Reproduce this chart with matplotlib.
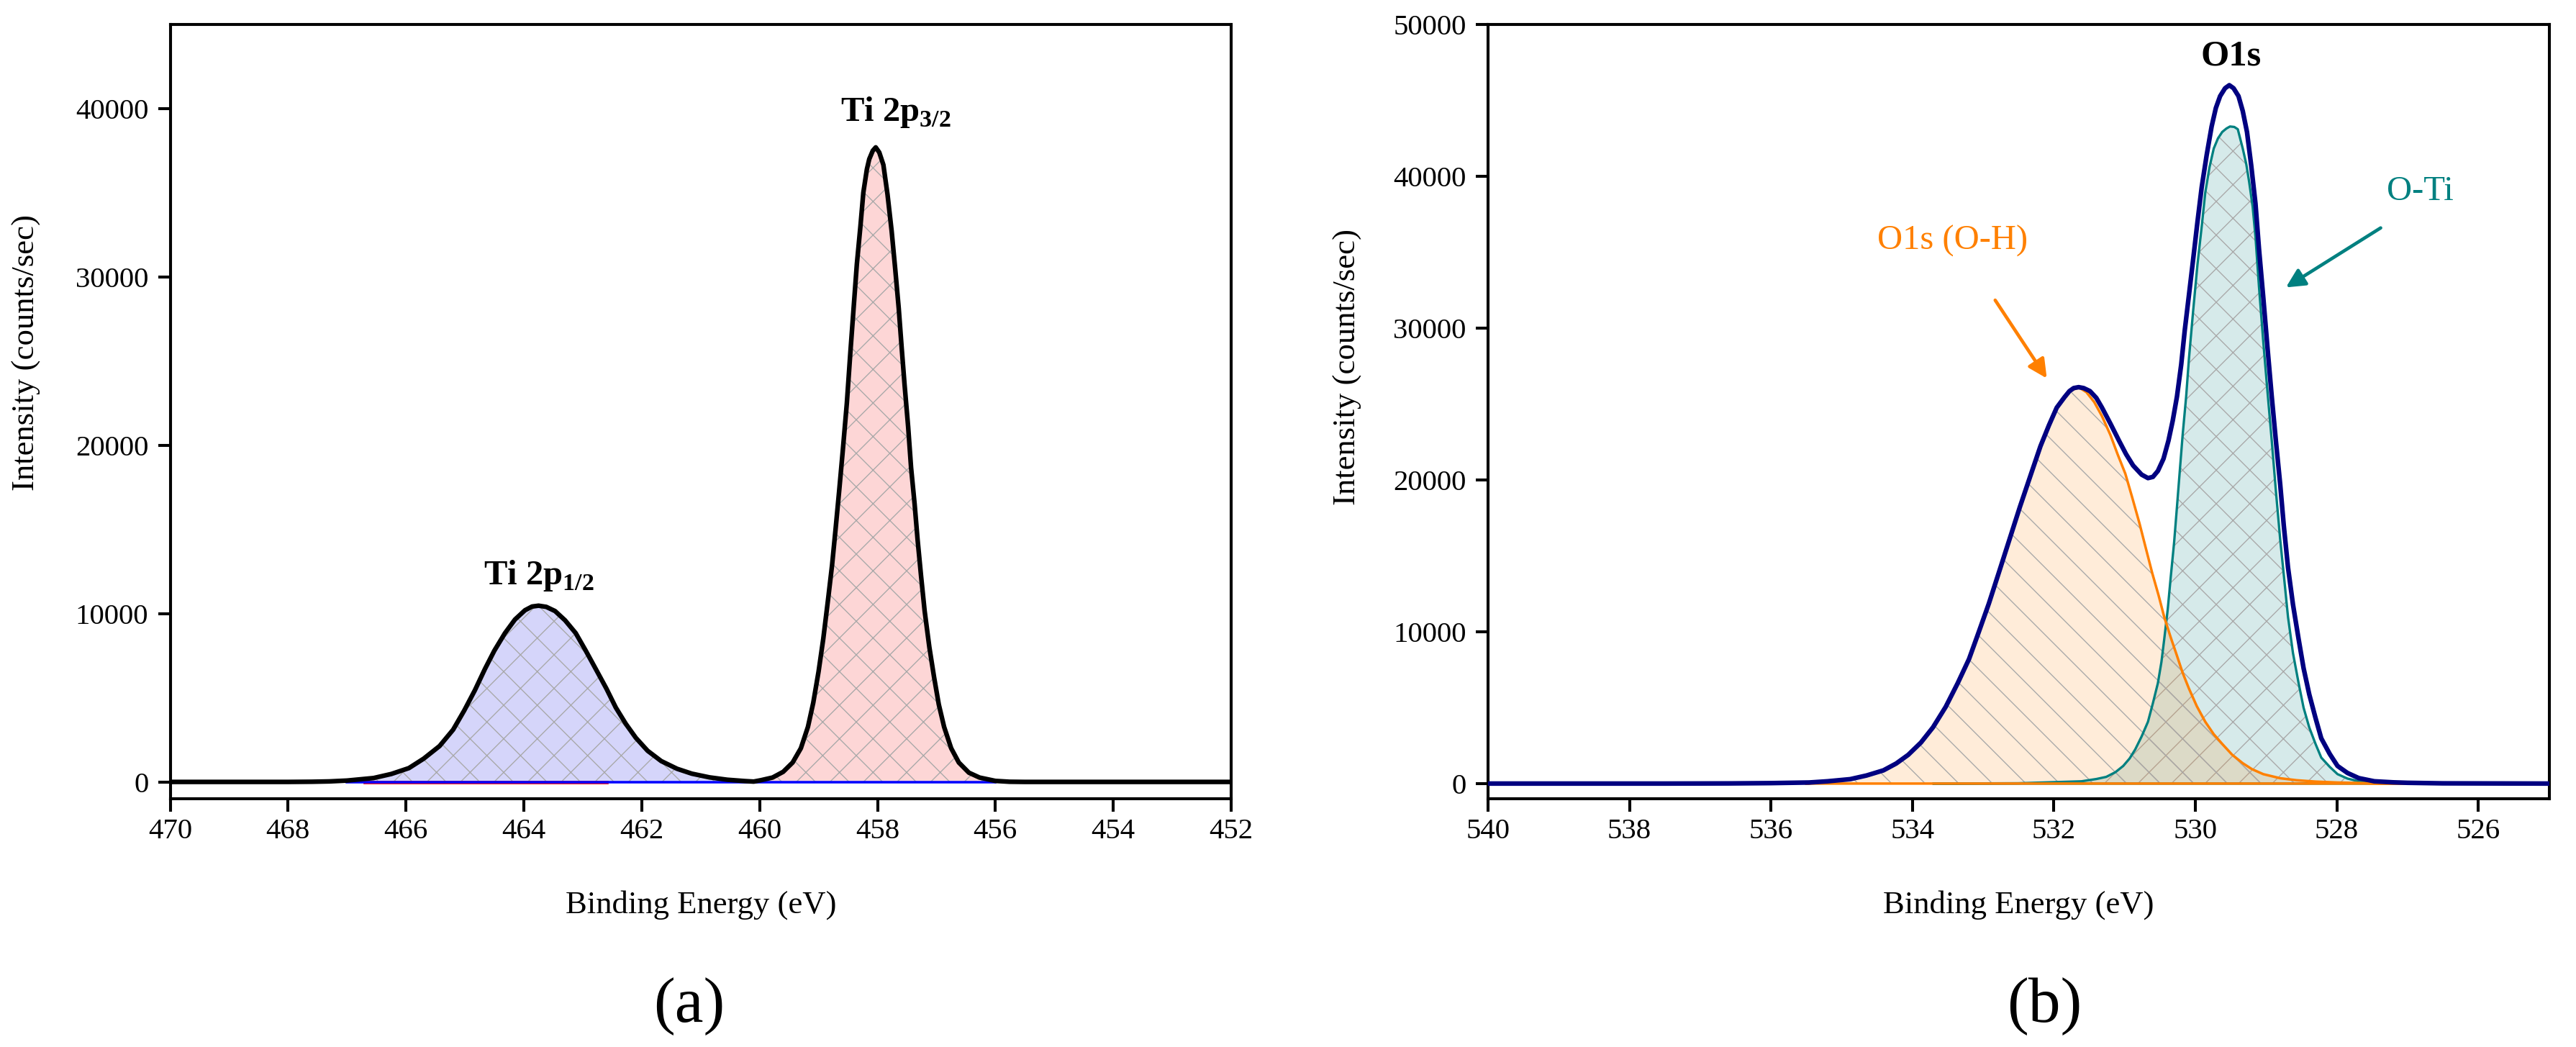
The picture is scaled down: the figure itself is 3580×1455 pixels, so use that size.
## xps_ti2p_o1s.py
# Ti 2p and O 1s XPS spectra, two panels side by side
import numpy as np
import matplotlib
matplotlib.use('Agg')
import matplotlib.pyplot as plt

# ---- Panel (a): Ti 2p ----
ti12_be = [468.0, 467.6, 467.3, 467.0, 466.55, 466.25, 465.95, 465.7, 465.43, 465.2, 465.01, 464.83,
           464.66, 464.5, 464.32, 464.15, 463.98, 463.86, 463.75, 463.62, 463.47, 463.3, 463.12, 462.95,
           462.78, 462.6, 462.44, 462.27, 462.1, 461.9, 461.67, 461.4, 461.15, 460.85, 460.55, 460.25]
ti12_cps = [0, 10, 30, 80, 230, 470, 820, 1380, 2130, 3100, 4250, 5450,
            6710, 7800, 8840, 9650, 10200, 10420, 10470, 10400, 10150, 9600, 8840, 7800,
            6710, 5550, 4420, 3450, 2620, 1850, 1240, 780, 490, 270, 130, 50]

ti32_be = [460.1, 459.98, 459.78, 459.6, 459.44, 459.3, 459.18, 459.09, 459.0, 458.92, 458.84, 458.77,
           458.71, 458.65, 458.59, 458.52, 458.46, 458.4, 458.35, 458.29, 458.24, 458.18, 458.14, 458.08,
           458.03, 457.97, 457.9, 457.83, 457.76, 457.7, 457.64, 457.59, 457.54, 457.48, 457.43, 457.37,
           457.32, 457.26, 457.2, 457.12, 457.04, 456.96, 456.87, 456.75, 456.62, 456.45, 456.27, 456.0,
           455.76, 455.5]
ti32_cps = [20, 100, 260, 600, 1150, 2000, 3270, 4700, 6550, 8500, 10800, 12900,
            15060, 17300, 19640, 22500, 25530, 28400, 30770, 33000, 35020, 36400, 37000, 37500,
            37700, 37400, 36660, 34900, 32730, 30500, 28150, 25800, 23570, 21100, 18660, 16500,
            14400, 12200, 10150, 8000, 6220, 4600, 3270, 2000, 1150, 550, 260, 60,
            10, 0]

ti12_base = [466.7, 462.6]
ti32_base = [467.0, 456.0]

# ---- Panel (b): O 1s ----
o1s_be = [540.0, 537.5, 536.6, 536.0, 535.46, 535.2, 534.88, 534.65, 534.41, 534.23, 534.06, 533.88,
          533.71, 533.53, 533.36, 533.2, 533.07, 532.92, 532.78, 532.63, 532.48, 532.33, 532.19, 532.07,
          531.96, 531.85, 531.78, 531.72, 531.65, 531.58, 531.49, 531.4, 531.32, 531.2, 531.08, 530.98,
          530.88, 530.76, 530.67, 530.6, 530.53, 530.45, 530.38, 530.32, 530.26, 530.2, 530.15, 530.09,
          530.03, 529.97, 529.91, 529.84, 529.77, 529.71, 529.65, 529.58, 529.52, 529.46, 529.39, 529.33,
          529.27, 529.21, 529.15, 529.1, 529.04, 528.98, 528.92, 528.86, 528.8, 528.75, 528.69, 528.62,
          528.54, 528.47, 528.39, 528.3, 528.22, 528.1, 527.99, 527.85, 527.69, 527.47, 527.2, 527.0,
          526.5, 525.0]
o1s_cps = [0, 0, 10, 30, 70, 150, 290, 530, 870, 1320, 1890, 2700,
           3700, 5050, 6610, 8200, 9880, 11850, 13870, 16050, 18230, 20300, 22220, 23600,
           24760, 25450, 25850, 26050, 26110, 26050, 25850, 25400, 24760, 23700, 22590, 21700,
           20950, 20350, 20120, 20200, 20590, 21400, 22590, 23900, 25490, 27600, 29850, 32200,
           34570, 37000, 39290, 41400, 43280, 44500, 45280, 45800, 46000, 45800, 45280, 44300,
           42920, 40700, 38200, 35200, 32030, 28700, 25490, 22500, 19680, 17000, 14230, 11800,
           9510, 7600, 5880, 4300, 2980, 1950, 1160, 700, 360, 150, 80, 50,
           15, 0]

oh_be = [535.5, 535.2, 534.88, 534.65, 534.41, 534.23, 534.06, 533.88, 533.71, 533.53, 533.36, 533.2,
         533.07, 532.92, 532.78, 532.63, 532.48, 532.33, 532.19, 532.07, 531.96, 531.85, 531.78, 531.65,
         531.54, 531.43, 531.32, 531.2, 531.1, 530.99, 530.89, 530.79, 530.7, 530.61, 530.52, 530.44,
         530.35, 530.26, 530.18, 530.09, 529.98, 529.86, 529.74, 529.62, 529.48, 529.33, 529.2, 529.04,
         528.8, 528.57, 528.3, 527.99, 527.5, 527.0]
oh_cps = [0, 130, 270, 510, 850, 1300, 1870, 2680, 3680, 5030, 6590, 8180,
          9860, 11830, 13850, 16030, 18210, 20280, 22190, 23570, 24740, 25430, 25840, 26110,
          25780, 25130, 24200, 22950, 21700, 20410, 18800, 17140, 15500, 13870, 12400, 10970,
          9650, 8420, 7300, 6250, 5100, 4070, 3250, 2610, 1900, 1340, 950, 620,
          350, 220, 130, 70, 20, 0]

oti_be = [533.7, 532.5, 531.61, 531.4, 531.26, 531.13, 531.02, 530.93, 530.85, 530.76, 530.67, 530.6,
          530.53, 530.48, 530.44, 530.39, 530.35, 530.3, 530.26, 530.22, 530.18, 530.13, 530.09, 530.03,
          529.97, 529.91, 529.86, 529.8, 529.74, 529.68, 529.62, 529.56, 529.51, 529.45, 529.4, 529.33,
          529.28, 529.24, 529.19, 529.15, 529.1, 529.04, 528.98, 528.92, 528.86, 528.8, 528.74, 528.69,
          528.62, 528.54, 528.47, 528.39, 528.3, 528.22, 528.1, 527.99, 527.85, 527.69, 527.5, 527.3]
oti_cps = [0, 20, 150, 300, 440, 750, 1160, 1650, 2250, 3100, 4070, 5300,
           6610, 8000, 9510, 11500, 13510, 15900, 18230, 20600, 22950, 25500, 28030, 31200,
           34200, 36700, 38920, 40600, 41830, 42500, 42920, 43150, 43280, 43250, 43100, 41830,
           40800, 39650, 38000, 36020, 32700, 29120, 25800, 22590, 19200, 16050, 13300, 10970,
           8600, 6610, 5000, 3700, 2600, 1710, 1100, 620, 330, 150, 50, 0]

# Style
plt.rcParams['font.family'] = ['Liberation Serif', 'DejaVu Serif']
plt.rcParams['mathtext.fontset'] = 'custom'
plt.rcParams['mathtext.rm'] = 'Liberation Serif'
plt.rcParams['mathtext.bf'] = 'Liberation Serif:bold'
plt.rcParams['hatch.color'] = '#a9a9a9'
plt.rcParams['hatch.linewidth'] = 0.7

DPI = 140
fig = plt.figure(figsize=(3580 / DPI, 1455 / DPI), dpi=DPI)
ax1 = fig.add_axes([236.5 / 3580, 1 - 1110 / 1455, 1474.5 / 3580, 1076 / 1455])
ax2 = fig.add_axes([2068 / 3580, 1 - 1110 / 1455, 1474.5 / 3580, 1076 / 1455])

TICK_FS = 21
LABEL_FS = 23


def style_axes(ax):
    for sp in ax.spines.values():
        sp.set_linewidth(2.1)
    ax.tick_params(axis='both', direction='out', length=9, width=2.1,
                   labelsize=TICK_FS, top=False, right=False)
    ax.tick_params(axis='x', pad=5)
    ax.tick_params(axis='y', pad=6.5)


# Panel (a)
ax1.fill_between(ti12_be, ti12_cps, 0, facecolor='#d5d5fa', hatch='x', linewidth=0, zorder=1)
ax1.fill_between(ti32_be, ti32_cps, 0, facecolor='#fdd6d6', hatch='x', linewidth=0, zorder=1)
ax1.plot(ti12_base, [0, 0], color='red', lw=2.4, zorder=2)
ax1.plot(ti32_base, [0, 0], color='blue', lw=1.8, zorder=3)
env_be = [470.0] + ti12_be + ti32_be + [452.0]
env_cps = [0] + ti12_cps + ti32_cps + [0]
ax1.plot(env_be, env_cps, color='black', lw=3.3, zorder=4, solid_joinstyle='round')

ax1.text(457.69, 39770, r'Ti 2p$_{\mathbf{3/2}}$', fontsize=25, fontweight='bold',
         ha='center', va='center')
ax1.text(463.74, 12270, r'Ti 2p$_{\mathbf{1/2}}$', fontsize=25, fontweight='bold',
         ha='center', va='center')

ax1.set_xlim(470, 452)
ax1.set_ylim(-1000, 45000)
ax1.set_xticks(np.arange(470, 451, -2))
ax1.set_yticks(np.arange(0, 40001, 10000))
style_axes(ax1)

# Panel (b)
ax2.fill_between(oti_be, oti_cps, 0, facecolor=(0, 0.5, 0.5, 0.16), hatch='x', linewidth=0, zorder=1)
ax2.fill_between(oh_be, oh_cps, 0, facecolor=(1, 0.5, 0, 0.15), hatch='\\', linewidth=0, zorder=1.5)
ax2.plot(oti_be + [oti_be[0]], oti_cps + [0], color='#008080', lw=1.7, zorder=2)
ax2.plot(oh_be + [oh_be[0]], oh_cps + [0], color='#ff8000', lw=1.8, zorder=2.5)
ax2.plot(o1s_be, o1s_cps, color='#000080', lw=3.3, zorder=4, solid_joinstyle='round')

ax2.text(529.5, 47890, 'O1s', fontsize=26, fontweight='bold', ha='center', va='center')
ax2.text(533.43, 35730, 'O1s (O-H)', fontsize=25, color='#ff8000', ha='center', va='center')
ax2.text(526.82, 39000, 'O-Ti', fontsize=25, color='#008080', ha='center', va='center')
ax2.annotate('', xy=(532.10, 26690), xytext=(532.83, 31840),
             arrowprops=dict(arrowstyle='-|>', color='#ff8000', lw=2.4, mutation_scale=28,
                             shrinkA=0, shrinkB=0))
ax2.annotate('', xy=(528.72, 32680), xytext=(527.38, 36600),
             arrowprops=dict(arrowstyle='-|>', color='#008080', lw=2.4, mutation_scale=28,
                             shrinkA=0, shrinkB=0))

ax2.set_xlim(540, 525)
ax2.set_ylim(-1000, 50000)
ax2.set_xticks(np.arange(540, 525, -2))
ax2.set_yticks(np.arange(0, 50001, 10000))
style_axes(ax2)

# Axis labels
for ax in (ax1, ax2):
    ax.set_xlabel('Binding Energy (eV)', fontsize=LABEL_FS, va='baseline')
    ax.xaxis.set_label_coords(0.5, -0.147)
    ax.set_ylabel('Intensity (counts/sec)', fontsize=LABEL_FS, va='center')
ax1.yaxis.set_label_coords(-0.1353, 0.576)
ax2.yaxis.set_label_coords(-0.1322, 0.558)

fig.text(958 / 3580, 1 - 1399 / 1455, '(a)', fontsize=46, ha='center', va='center')
fig.text(2841 / 3580, 1 - 1399 / 1455, '(b)', fontsize=46, ha='center', va='center')

fig.savefig('out.png', dpi=DPI)
